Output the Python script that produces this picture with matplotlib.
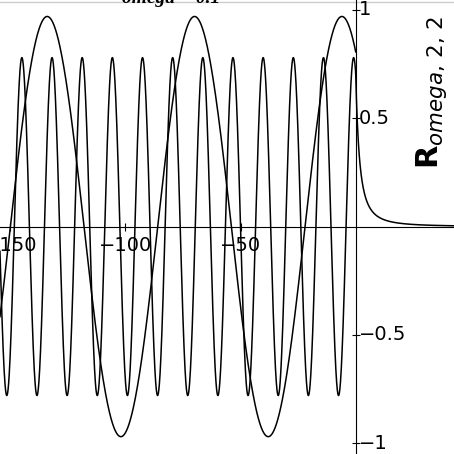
import numpy as np
import matplotlib
matplotlib.use("Agg")
import matplotlib.pyplot as plt

# curve parameters
slow_amp, slow_period, slow_peak = 0.97, 64.0, -6.0
fast_amp, fast_period, fast_peak = 0.78, 13.1, -0.9
decay_scale = 3.3
xticks = [-150, -100, -50]
yticks = [-1, -0.5, 0.5, 1]
yticklabels = ["\u22121", "\u22120.5", "0.5", "1"]
xticklabels = ["\u2212150", "\u2212100", "\u221250"]

xn = np.linspace(-160, 0, 4000)
xp = np.linspace(0, 45, 800)
slow = slow_amp * np.cos(2 * np.pi * (xn - slow_peak) / slow_period)
fast = fast_amp * np.cos(2 * np.pi * (xn - fast_peak) / fast_period)
v0 = fast[-1]
dec = v0 / (1 + xp / decay_scale) ** 2

fig = plt.figure(figsize=(4.54, 4.54), dpi=100)
ax = fig.add_axes([0, 0, 1, 1])
ax.plot(xn, slow, color="black", lw=1.1)
ax.plot(xn, fast, color="black", lw=1.1)
ax.plot(xp, dec, color="black", lw=1.1)
ax.set_xlim(-154.5, 42.7)
ax.set_ylim(-1.05, 1.046)
for s in ["top", "right"]:
    ax.spines[s].set_visible(False)
ax.spines["left"].set_position(("data", 0))
ax.spines["bottom"].set_position(("data", 0))
ax.axhline(1.035, color="#cccccc", lw=1)
ax.set_xticks(xticks)
ax.set_xticklabels(xticklabels, fontsize=14)
ax.set_yticks(yticks)
ax.set_yticklabels([])
ax.tick_params(axis="y", direction="inout", length=6)
ax.tick_params(axis="x", direction="inout", length=6)
for v, lab in zip(yticks, yticklabels):
    ax.text(1.2, v, lab, fontsize=14, ha="left", va="center")
ax.text(-80, 1.055, "omega = 0.1", fontsize=14, fontweight="bold",
        style="italic", family="Liberation Serif", ha="center", va="center")
ax.text(33, 0.62, r"$\mathbf{R}_{\mathit{omega},\,2,\,2}$", fontsize=22,
        rotation=90, ha="center", va="center")
fig.savefig("out.png", dpi=100)
